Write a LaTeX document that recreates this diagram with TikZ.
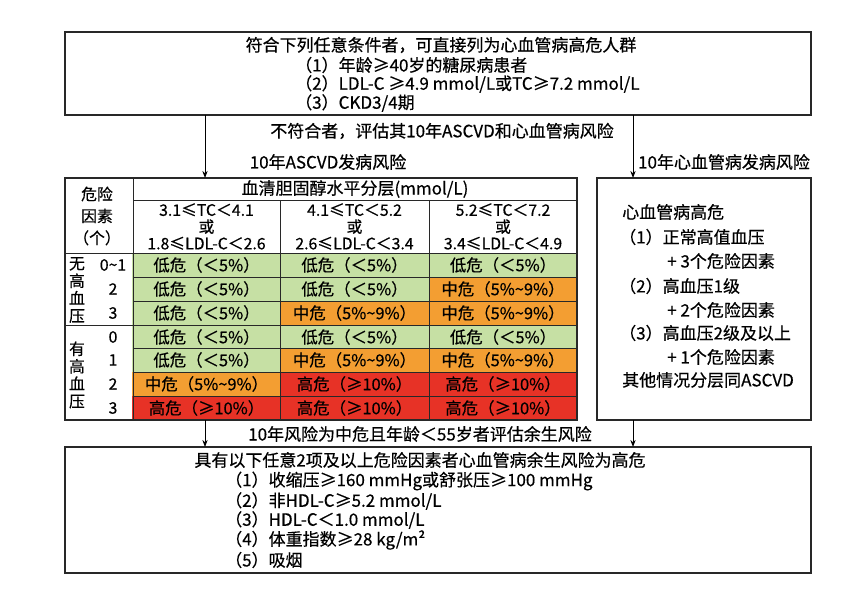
\documentclass[tikz,border=0pt]{standalone}
\usepackage{fontspec}
\setmainfont{Noto Sans CJK SC}[FakeBold=0.5]
\usetikzlibrary{arrows.meta}

\definecolor{lowgreen}{RGB}{198,224,164}
\definecolor{midorange}{RGB}{243,158,50}
\definecolor{highred}{RGB}{231,50,38}
\definecolor{boxline}{RGB}{40,40,40}
\newcommand{\tildech}{\textasciitilde}

\tikzset{
  frame/.style={draw=boxline, line width=1.2pt, inner sep=0pt, outer sep=0pt},
  txt/.style={inner sep=0pt, font=\fontsize{14.5pt}{17pt}\selectfont},
  small/.style={inner sep=0pt, font=\fontsize{13.5pt}{16pt}\selectfont},
  cell/.style={minimum width=4.47cm, minimum height=0.72cm, inner sep=0pt, outer sep=0pt, font=\fontsize{14pt}{16pt}\selectfont},
  lo/.style={cell, fill=lowgreen},
  mid/.style={cell, fill=midorange},
  hi/.style={cell, fill=highred},
  tabline/.style={draw=boxline, line width=0.8pt},
  arr/.style={-{Stealth[length=6pt,width=4.5pt]}, line width=0.8pt},
}

\begin{document}
\begin{tikzpicture}[x=0.03cm, y=-0.03cm]
\useasboundingbox (0,0) rectangle (866,595);

% first screening
\node[frame, minimum width=22.38cm, minimum height=2.49cm] (crit) at (438,73.5) {};
\node[txt] (crit0) at (441,45) {符合下列任意条件者，可直接列为心血管病高危人群};
\node[txt, anchor=west] (crit1) at (295,65) {（1）年龄≥40岁的糖尿病患者};
\node[txt, anchor=west] (crit2) at (295,84) {（2）LDL-C ≥4.9 mmol/L或TC≥7.2 mmol/L};
\node[txt, anchor=west] (crit3) at (295,103) {（3）CKD3/4期};

\node[txt] (notmet) at (442,131) {不符合者，评估其10年ASCVD和心血管病风险};
\node[txt] (ascvd) at (328,162) {10年ASCVD发病风险};
\node[txt] (cvdlab) at (724,162) {10年心血管病发病风险};

% ASCVD table
\node[minimum width=15.36cm, minimum height=7.26cm, inner sep=0pt, outer sep=0pt] (tab) at (321,299) {};

\node[lo] (c11) at (206.5,265) {低危（＜5\%）};
\node[lo] (c12) at (354.5,265) {低危（＜5\%）};
\node[lo] (c13) at (503,265) {低危（＜5\%）};
\node[lo] (c21) at (206.5,289) {低危（＜5\%）};
\node[lo] (c22) at (354.5,289) {低危（＜5\%）};
\node[mid] (c23) at (503,289) {中危（5\%\tildech 9\%）};
\node[lo] (c31) at (206.5,313) {低危（＜5\%）};
\node[mid] (c32) at (354.5,313) {中危（5\%\tildech 9\%）};
\node[mid] (c33) at (503,313) {中危（5\%\tildech 9\%）};
\node[lo] (c41) at (206.5,337) {低危（＜5\%）};
\node[lo] (c42) at (354.5,337) {低危（＜5\%）};
\node[lo] (c43) at (503,337) {低危（＜5\%）};
\node[lo] (c51) at (206.5,360) {低危（＜5\%）};
\node[mid] (c52) at (354.5,360) {中危（5\%\tildech 9\%）};
\node[mid] (c53) at (503,360) {中危（5\%\tildech 9\%）};
\node[mid] (c61) at (206.5,384) {中危（5\%\tildech 9\%）};
\node[hi] (c62) at (354.5,384) {高危（≥10\%）};
\node[hi] (c63) at (503,384) {高危（≥10\%）};
\node[hi] (c71) at (206.5,408) {高危（≥10\%）};
\node[hi] (c72) at (354.5,408) {高危（≥10\%）};
\node[hi] (c73) at (503,408) {高危（≥10\%）};

\node[txt] (hchol) at (355,189) {血清胆固醇水平分层(mmol/L)};
\node[small, align=center, font=\fontsize{13.5pt}{14.3pt}\selectfont] (hc1) at (206.5,226.5) {3.1≤TC＜4.1\\或\\1.8≤LDL-C＜2.6};
\node[small, align=center, font=\fontsize{13.5pt}{14.3pt}\selectfont] (hc2) at (354.5,226.5) {4.1≤TC＜5.2\\或\\2.6≤LDL-C＜3.4};
\node[small, align=center, font=\fontsize{13.5pt}{14.3pt}\selectfont] (hc3) at (503,226.5) {5.2≤TC＜7.2\\或\\3.4≤LDL-C＜4.9};
\node[small, align=center, font=\fontsize{13.5pt}{18.7pt}\selectfont] (hrisk) at (97,216) {危险\\因素\\（个）};

\node[small, align=center, font=\fontsize{13.5pt}{14.9pt}\selectfont] (nohyp) at (77,290) {无\\高\\血\\压};
\node[small, align=center, font=\fontsize{13.5pt}{14.9pt}\selectfont] (hyp) at (77,375) {有\\高\\血\\压};
\node[small] (n1) at (113,265) {0\tildech 1};
\node[small] (n2) at (113,289) {2};
\node[small] (n3) at (113,313) {3};
\node[small] (n4) at (113,337) {0};
\node[small] (n5) at (113,360) {1};
\node[small] (n6) at (113,384) {2};
\node[small] (n7) at (113,408) {3};

\draw[tabline] (133,178) -- (133,420);
\draw[tabline] (133,200) -- (577,200);
\draw[tabline] (280,200) -- (280,420) (429,200) -- (429,420);
\draw[tabline] (65,253) -- (577,253) (65,325) -- (577,325);
\draw[tabline] (133,277) -- (577,277) (133,301) -- (577,301);
\draw[tabline] (133,348) -- (577,348) (133,372) -- (577,372) (133,396) -- (577,396);
\draw[tabline, line width=1pt] (tab.north west) rectangle (tab.south east);

% cardiovascular risk
\node[frame, minimum width=6.42cm, minimum height=7.26cm] (cvd) at (704,299) {};
\node[txt, anchor=west] (cvd0) at (622,212) {心血管病高危};
\node[txt, anchor=west] (cvd1) at (619,237) {（1）正常高值血压};
\node[txt, anchor=west] (cvd1b) at (667,261) {+ 3个危险因素};
\node[txt, anchor=west] (cvd2) at (619,286) {（2）高血压1级};
\node[txt, anchor=west] (cvd2b) at (667,310) {+ 2个危险因素};
\node[txt, anchor=west] (cvd3) at (619,333) {（3）高血压2级及以上};
\node[txt, anchor=west] (cvd3b) at (667,357) {+ 1个危险因素};
\node[txt, anchor=west] (cvd4) at (622,380) {其他情况分层同ASCVD};

\node[txt] (midrisk) at (420,434) {10年风险为中危且年龄＜55岁者评估余生风险};

% lifetime risk
\node[frame, minimum width=22.38cm, minimum height=3.78cm] (life) at (438,510) {};
\node[txt] (life0) at (420,460) {具有以下任意2项及以上危险因素者心血管病余生风险为高危};
\node[txt, anchor=west] (life1) at (225,481) {（1）收缩压≥160 mmHg或舒张压≥100 mmHg};
\node[txt, anchor=west] (life2) at (225,501) {（2）非HDL-C≥5.2 mmol/L};
\node[txt, anchor=west] (life3) at (225,520) {（3）HDL-C＜1.0 mmol/L};
\node[txt, anchor=west] (life4) at (225,540) {（4）体重指数≥28 kg/m²};
\node[txt, anchor=west] (life5) at (225,560) {（5）吸烟};

\coordinate (lx) at (205,0);
\coordinate (rx) at (633,0);
\draw[arr] (crit.south -| lx) -- (tab.north -| lx);
\draw[arr] (crit.south -| rx) -- (cvd.north -| rx);
\draw[arr] (tab.south -| lx) -- (life.north -| lx);
\draw[arr] (cvd.south -| rx) -- (life.north -| rx);
\end{tikzpicture}
\end{document}
